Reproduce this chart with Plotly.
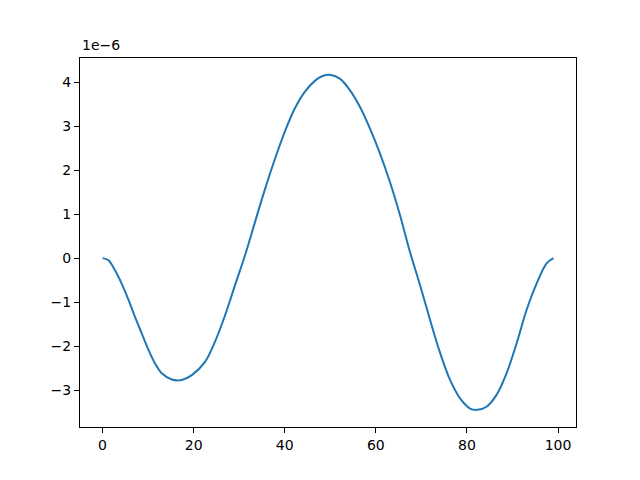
import plotly.graph_objects as go

# values, y in units of 1e-6
x_vals = [0, 1.3, 2.7, 4.2, 5.7, 7.1, 8.6, 10.1, 11.5, 13.0, 15.2, 17.4, 19.6,
          22.5, 24.7, 26.9, 29.1, 31.3, 33.5, 35.7, 37.9, 40.0, 42.2, 44.4, 46.6,
          48.3, 49.9, 52.1, 54.3, 56.5, 58.7, 60.9, 63.1, 65.3, 67.5, 69.7, 71.9,
          74.1, 76.3, 78.5, 80.7, 82.3, 84.3, 86.5, 88.7, 90.9, 93.1, 95.3, 97.5, 99]
y_vals = [0, -0.05, -0.27, -0.58, -0.95, -1.33, -1.71, -2.09, -2.39, -2.62, -2.76,
          -2.77, -2.66, -2.36, -1.90, -1.30, -0.61, 0.07, 0.83, 1.58, 2.27, 2.87,
          3.40, 3.78, 4.03, 4.14, 4.17, 4.08, 3.82, 3.44, 2.95, 2.38, 1.73, 0.98,
          0.14, -0.61, -1.40, -2.15, -2.77, -3.19, -3.42, -3.45, -3.38, -3.11,
          -2.62, -1.94, -1.18, -0.58, -0.12, 0]

y_ticks = [-3, -2, -1, 0, 1, 2, 3, 4]
x_ticks = [0, 20, 40, 60, 80, 100]

fig = go.Figure()
fig.add_trace(go.Scatter(x=x_vals, y=[v * 1e-6 for v in y_vals], mode="lines",
                         line=dict(color="#1f77b4", width=2, shape="spline", smoothing=1.0)))

axis_style = dict(showgrid=False, zeroline=False, showline=True, linecolor="black",
                  linewidth=1, mirror=True, ticks="outside", ticklen=5, tickwidth=1,
                  tickcolor="black", tickfont=dict(family="DejaVu Sans", size=14, color="black"))

fig.update_xaxes(range=[-4.95, 103.95], tickvals=x_ticks, **axis_style)
fig.update_yaxes(range=[-3.84e-6, 4.55e-6], tickvals=[t * 1e-6 for t in y_ticks],
                 ticktext=[str(t).replace("-", "\u2212") for t in y_ticks], **axis_style)

fig.add_annotation(text="1e\u22126", xref="paper", yref="paper", x=0, y=1,
                   xanchor="left", yanchor="bottom", yshift=3, showarrow=False,
                   font=dict(family="DejaVu Sans", size=14, color="black"))

# page has an 8px body margin, so shift the plot area up/left by that much
fig.update_layout(width=640, height=480, showlegend=False,
                  paper_bgcolor="white", plot_bgcolor="white",
                  margin=dict(l=72, r=72, t=50, b=61))

fig.write_html("out.html")
